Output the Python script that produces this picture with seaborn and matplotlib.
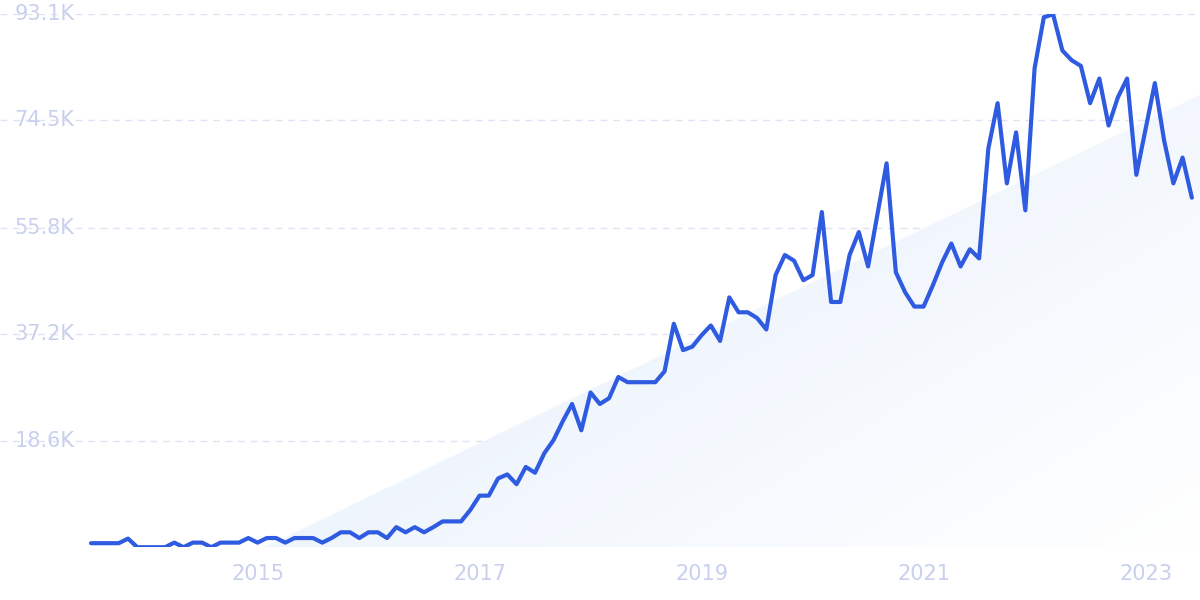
import numpy as np
import seaborn as sns
import matplotlib.pyplot as plt
from matplotlib.colors import LinearSegmentedColormap
from matplotlib.patches import Polygon

# monthly search volume (thousands), Jul 2013 .. Jun 2023
values = [0.7, 0.7, 0.7, 0.7, 1.5, 0, 0, 0, 0, 0.8, 0, 0.8, 0.8, 0, 0.8, 0.8, 0.8, 1.6, 0.8, 1.6,
          1.6, 0.8, 1.6, 1.6, 1.6, 0.8, 1.6, 2.6, 2.6, 1.6, 2.6, 2.6, 1.6, 3.5, 2.6, 3.5, 2.6, 3.5, 4.5, 4.5,
          4.5, 6.5, 9, 9, 12, 12.7, 11, 14, 13, 16.4, 18.7, 22, 25, 20.4, 27, 25, 26, 29.7, 28.8, 28.8,
          28.8, 28.8, 30.7, 39, 34.4, 35, 37, 38.7, 36, 43.6, 41, 41, 40, 38, 47.5, 51, 50, 46.6, 47.5, 58.5,
          42.8, 42.8, 51, 55, 49, 58, 67, 48, 44.5, 42, 42, 45.7, 49.7, 53, 49, 52, 50.4, 69.6, 77.5, 63.5,
          72.4, 58.8, 83.6, 92.5, 93, 86.7, 85, 84, 77.5, 81.8, 73.6, 78.5, 81.8, 65, 73, 81, 71, 63.5, 68, 61]
start_year = 2013.5
yticks = [18.6, 37.2, 55.8, 74.5, 93.1]
ytick_labels = ["18.6K", "37.2K", "55.8K", "74.5K", "93.1K"]
xticks = [2015, 2017, 2019, 2021, 2023]

x = start_year + np.arange(len(values)) / 12
y = np.array(values)

sns.set_style("white")
fig = plt.figure(figsize=(12, 6), dpi=100)
ax = fig.add_axes([0, 0.088, 1, 0.889])
xmin, xmax = 2012.68, 2023.49
ax.set_xlim(xmin, xmax)
ax.set_ylim(0, 93.1)

# trend area with gradient
slope, icpt = np.polyfit(x, y, 1)
tx = np.linspace(xmin, xmax, 300)
ty = np.clip(slope * tx + icpt, 0, None)
cmap = LinearSegmentedColormap.from_list("g", ["#dce9fb", "#ffffff"])
gx, gy = np.meshgrid(np.linspace(0, 1, 200), np.linspace(0, 1, 200))
grad = (gx * 0.7 + (1 - gy) * 0.5)
im = ax.imshow(grad, extent=[xmin, xmax, 0, 93.1], origin="lower", aspect="auto",
               cmap=cmap, zorder=1)
poly = Polygon(np.column_stack([np.r_[tx, xmax, xmin], np.r_[ty, 0, 0]]),
               closed=True, transform=ax.transData, facecolor="none", edgecolor="none")
ax.add_patch(poly)
im.set_clip_path(poly)

for t in yticks:
    ax.axhline(t, color="#dfe4f5", lw=1, ls=(0, (5, 4)), zorder=0)

sns.lineplot(x=x, y=y, ax=ax, color="#2f5be0", lw=3, zorder=3)

ax.set_yticks([])
ax.set_xticks(xticks)
ax.set_xticklabels([str(v) for v in xticks], color="#c8d0ee", fontsize=15)
ax.tick_params(axis="x", length=0, pad=12)
for t, lab in zip(yticks, ytick_labels):
    ax.text(0.012, t, lab, transform=ax.get_yaxis_transform(), ha="left", va="center",
            color="#c8d0ee", fontsize=15, zorder=4)
for s in ax.spines.values():
    s.set_visible(False)

fig.savefig("out.png", dpi=100)
